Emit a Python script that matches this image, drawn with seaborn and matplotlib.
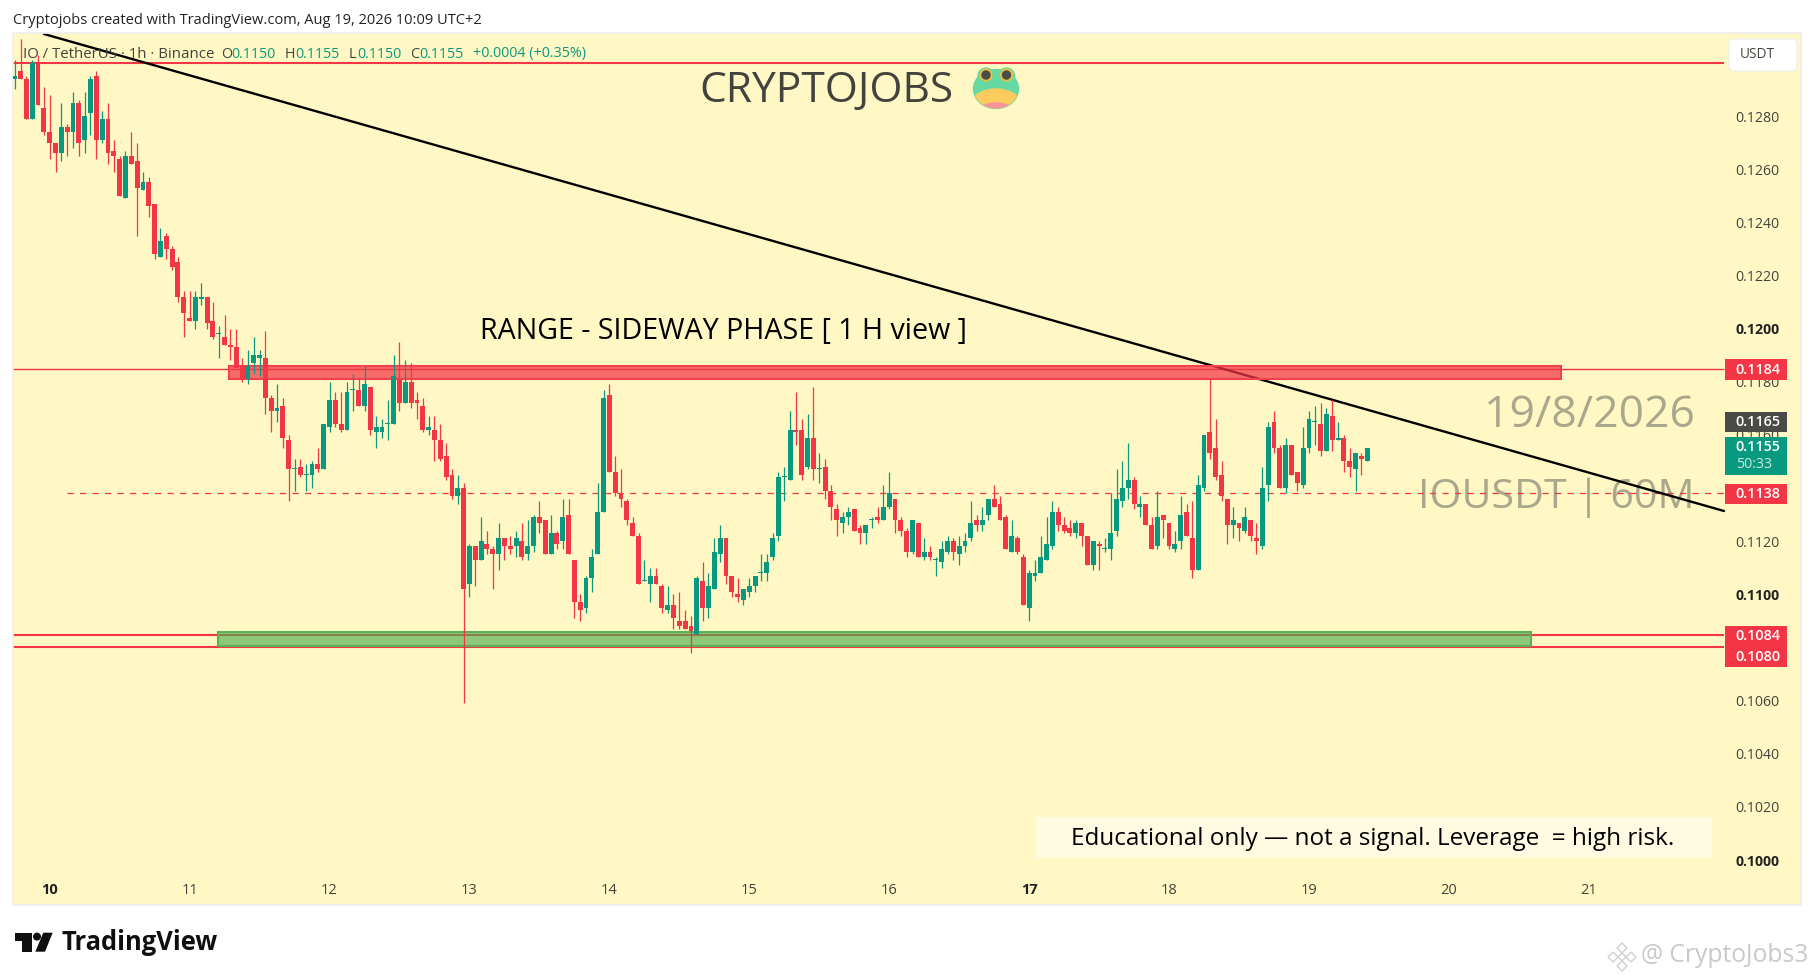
import numpy as np
import pandas as pd
import matplotlib
matplotlib.use("Agg")
import matplotlib.pyplot as plt
from matplotlib.patches import Rectangle, FancyBboxPatch, Ellipse, Circle, Polygon
import seaborn as sns

# hourly candles, in price ticks of 0.0001
opens = [1294,1297,1294,1279,1300,1283,1274,1270,1266,1276,
         1274,1285,1271,1281,1295,1271,1279,1267,1264,1249,
         1265,1263,1252,1255,1247,1227,1235,1230,1225,1212,
         1204,1203,1211,1212,1203,1198,1197,1194,1193,1186,
         1181,1187,1189,1189,1174,1169,1171,1158,1147,1148,
         1145,1145,1149,1147,1163,1173,1164,1162,1177,1177,
         1171,1178,1161,1161,1164,1164,1181,1172,1180,1173,
         1171,1162,1162,1158,1152,1145,1137,1140,1104,1118,
         1113,1119,1117,1115,1121,1118,1118,1120,1115,1118,
         1129,1128,1115,1123,1120,1130,1113,1097,1095,1106,
         1115,1131,1175,1146,1138,1135,1127,1122,1105,1104,
         1107,1103,1094,1096,1090,1090,1088,1085,1105,1095,
         1102,1115,1121,1107,1100,1098,1101,1103,1108,1108,
         1114,1122,1144,1143,1162,1162,1148,1159,1147,1148,
         1139,1132,1127,1129,1132,1125,1123,1128,1129,1128,
         1133,1136,1128,1124,1116,1127,1114,1116,1113,1112,
         1116,1120,1115,1118,1121,1128,1126,1130,1136,1134,
         1129,1116,1121,1114,1095,1107,1108,1113,1118,1131,
         1126,1125,1123,1127,1122,1111,1119,1117,1117,1124,
         1135,1140,1143,1133,1134,1126,1118,1130,1127,1117,
         1120,1131,1121,1109,1140,1161,1155,1145,1136,1126,
         1127,1124,1128,1121,1118,1141,1165,1155,1140,1156,
         1146,1141,1155,1165,1164,1154,1167,1158,1159,1150,
         1147,1152,1150]
closes = [1295,1294,1279,1300,1284,1274,1270,1266,1276,1274,
          1285,1270,1280,1294,1271,1279,1266,1265,1250,1265,
          1262,1253,1255,1246,1228,1233,1230,1223,1212,1206,
          1203,1212,1212,1202,1197,1198,1194,1193,1185,1181,
          1186,1190,1190,1174,1169,1170,1159,1147,1147,1145,
          1145,1149,1147,1164,1173,1164,1162,1176,1177,1171,
          1179,1162,1163,1163,1164,1182,1172,1180,1172,1172,
          1162,1163,1158,1151,1144,1137,1140,1102,1118,1113,
          1120,1117,1115,1121,1118,1117,1121,1114,1118,1129,
          1127,1115,1123,1119,1129,1115,1097,1094,1106,1114,
          1131,1174,1146,1138,1136,1128,1122,1104,1105,1107,
          1104,1095,1096,1091,1088,1087,1086,1106,1095,1103,
          1116,1121,1107,1101,1099,1102,1103,1107,1108,1112,
          1121,1144,1144,1162,1161,1145,1159,1147,1147,1139,
          1133,1128,1129,1131,1124,1123,1126,1128,1128,1133,
          1138,1128,1124,1116,1128,1114,1116,1114,1113,1117,
          1120,1116,1118,1120,1127,1126,1128,1136,1133,1128,
          1117,1122,1116,1096,1108,1108,1114,1119,1131,1126,
          1124,1123,1127,1122,1111,1120,1118,1117,1123,1136,
          1140,1143,1134,1134,1126,1117,1129,1128,1118,1119,
          1130,1122,1109,1141,1160,1153,1144,1137,1126,1128,
          1125,1129,1122,1120,1140,1163,1155,1140,1156,1145,
          1142,1155,1166,1165,1154,1168,1158,1159,1150,1148,
          1153,1151,1155]
highs = [1301,1309,1295,1301,1303,1291,1288,1270,1285,1277,
         1289,1286,1289,1295,1297,1282,1285,1271,1265,1267,
         1274,1270,1259,1257,1247,1238,1236,1231,1227,1214,
         1214,1214,1217,1212,1210,1201,1205,1200,1200,1189,
         1192,1197,1192,1199,1175,1179,1174,1160,1151,1151,
         1149,1150,1155,1164,1180,1176,1176,1180,1183,1181,
         1186,1178,1167,1166,1173,1190,1195,1188,1187,1176,
         1174,1167,1167,1164,1157,1147,1145,1142,1119,1118,
         1129,1124,1118,1127,1121,1122,1124,1127,1128,1130,
         1135,1128,1130,1124,1136,1136,1113,1100,1107,1117,
         1142,1177,1179,1152,1147,1136,1129,1123,1113,1110,
         1110,1104,1103,1100,1101,1094,1092,1107,1112,1108,
         1121,1126,1121,1107,1106,1102,1106,1107,1115,1115,
         1123,1146,1148,1169,1176,1166,1168,1178,1153,1151,
         1141,1134,1131,1133,1132,1126,1126,1129,1133,1141,
         1146,1136,1129,1125,1128,1127,1121,1118,1114,1120,
         1122,1121,1122,1123,1135,1130,1133,1136,1141,1137,
         1130,1128,1122,1115,1109,1113,1122,1129,1135,1133,
         1129,1128,1128,1127,1122,1120,1120,1121,1138,1147,
         1150,1157,1144,1137,1134,1129,1139,1130,1127,1124,
         1137,1134,1135,1145,1160,1181,1166,1150,1136,1133,
         1127,1133,1128,1127,1148,1165,1169,1156,1159,1156,
         1146,1163,1169,1171,1172,1170,1173,1165,1160,1155,
         1153,1153,1155]
lows = [1290,1294,1279,1279,1284,1273,1264,1259,1263,1265,
        1268,1265,1266,1273,1264,1270,1262,1259,1250,1249,
        1262,1235,1252,1242,1226,1227,1226,1222,1210,1197,
        1203,1200,1209,1200,1196,1189,1194,1188,1185,1180,
        1179,1183,1182,1168,1161,1165,1155,1135,1139,1144,
        1139,1140,1146,1147,1161,1163,1161,1162,1169,1171,
        1169,1160,1155,1159,1158,1164,1169,1172,1170,1166,
        1161,1160,1150,1150,1143,1136,1134,1059,1099,1103,
        1113,1115,1102,1109,1113,1115,1114,1113,1113,1116,
        1123,1115,1115,1117,1117,1115,1091,1090,1093,1101,
        1115,1131,1146,1137,1133,1126,1122,1104,1105,1097,
        1104,1093,1093,1087,1087,1087,1078,1085,1090,1091,
        1102,1112,1104,1099,1097,1096,1099,1101,1105,1105,
        1113,1120,1135,1143,1156,1143,1147,1143,1142,1136,
        1128,1122,1123,1126,1124,1119,1119,1125,1127,1128,
        1132,1123,1122,1114,1115,1114,1113,1113,1107,1110,
        1115,1113,1111,1116,1120,1124,1124,1128,1133,1128,
        1117,1116,1115,1096,1090,1105,1108,1113,1117,1124,
        1123,1122,1121,1118,1111,1109,1109,1116,1113,1122,
        1133,1136,1132,1129,1126,1117,1117,1121,1117,1116,
        1117,1122,1106,1109,1139,1151,1143,1135,1119,1121,
        1120,1123,1120,1115,1117,1135,1153,1140,1138,1145,
        1139,1140,1153,1156,1152,1154,1154,1158,1146,1144,
        1139,1145,1150]

day_labels = ["10", "11", "12", "13", "14", "15", "16", "17", "18", "19", "20", "21"]
bold_days = ["10", "17"]
first_midnight = 6
price_ticks = [0.1000 + 0.0020 * k for k in range(15)]
bold_prices = ["0.1000", "0.1100", "0.1200"]

RED = "#F23645"
GREEN = "#089981"
PANE = "#FFF8C4"
TEXT = "#43433E"
FAINT = "#A9A78C"

# pixel calibration of the pane
W, H = 1814, 980
pane_l, pane_r, pane_t, pane_b = 13, 1801, 33, 905
axis_x = 1724
bar0_x, bar_step = 14.7, 5.83
p0_y, px_per_price = 860, 26571


def idx(px):
    return (px - bar0_x) / bar_step


def price(py):
    return 0.1 + (p0_y - py) / px_per_price


sns.set_theme(style="white")
plt.rcParams["font.family"] = ["Open Sans", "DejaVu Sans"]

df = pd.DataFrame({"open": opens, "high": highs, "low": lows, "close": closes}) * 1e-4
df["bar"] = np.arange(len(df))
df["up"] = df["close"] >= df["open"]
df["bottom"] = df[["open", "close"]].min(axis=1)
df["body"] = (df["close"] - df["open"]).abs().clip(lower=0.00004)

fig = plt.figure(figsize=(W / 100, H / 100), dpi=100, facecolor="white")
ax = fig.add_axes([pane_l / W, 1 - pane_b / H, (pane_r - pane_l) / W, (pane_b - pane_t) / H])
ov = fig.add_axes([0, 0, 1, 1], zorder=5)
ov.set_xlim(0, W)
ov.set_ylim(H, 0)
ov.axis("off")
ov.patch.set_alpha(0)
ax.set_facecolor(PANE)

# levels and trend line sit under the bands
ax.hlines(0.1300, idx(pane_l), idx(axis_x), color=RED, lw=1.5, zorder=1.2)
ax.hlines(0.11847, idx(pane_l), idx(axis_x), color=RED, lw=1.0, zorder=1.2)
ax.hlines(0.1138, idx(67), idx(axis_x), color=RED, lw=0.9, ls=(0, (5, 5)), zorder=1.2)
ax.hlines([0.10847, 0.1080], idx(pane_l), idx(axis_x), color=RED, lw=1.5, zorder=1.2)
ax.plot([idx(44), idx(axis_x)], [price(34), price(511)], color="black", lw=1.7, zorder=1.3)

# supply and demand bands
ax.add_patch(Rectangle((idx(229), price(379)), idx(1561) - idx(229), price(366) - price(379),
                       facecolor=(0.949, 0.212, 0.271, 0.72), edgecolor="#F44050", lw=1.5, zorder=2))
ax.add_patch(Rectangle((idx(218), price(645.5)), idx(1531) - idx(218), price(631.5) - price(645.5),
                       facecolor=(0.30, 0.68, 0.31, 0.64), edgecolor="#5FAE58", lw=1.5, zorder=2))

# candles: wicks, then bodies through seaborn
ax.vlines(df["bar"][~df["up"]], df["low"][~df["up"]], df["high"][~df["up"]], color=RED, lw=0.9, zorder=3)
ax.vlines(df["bar"][df["up"]], df["low"][df["up"]], df["high"][df["up"]], color=GREEN, lw=0.9, zorder=3)
for is_up, colour in [(False, RED), (True, GREEN)]:
    part = df[df["up"] == is_up]
    sns.barplot(x=part["bar"].values, y=part["body"].values, bottom=part["bottom"].values,
                native_scale=True, color=colour, saturation=1, width=0.84, errorbar=None,
                linewidth=0, zorder=3.1, ax=ax)

ax.set_xlim(idx(pane_l), idx(pane_r))
ax.set_ylim(price(pane_b), price(pane_t))
ax.set_xlabel("")
ax.set_ylabel("")
for s in ax.spines.values():
    s.set_color("#EEEEEE")
    s.set_linewidth(1.2)

# axis labels live inside the pane
ax.set_xticks([first_midnight + 24 * k for k in range(len(day_labels))])
ax.set_xticklabels(day_labels)
ax.yaxis.tick_right()
ax.set_yticks(price_ticks)
ax.set_yticklabels([f"{p:.4f}" for p in price_ticks])
ax.tick_params(axis="x", length=0, pad=-16, labelsize=10.5, labelcolor=TEXT)
ax.tick_params(axis="y", length=0, pad=-47.5, labelsize=10.2, labelcolor=TEXT)
for lab in ax.get_xticklabels():
    if lab.get_text() in bold_days:
        lab.set_fontweight("bold")
        lab.set_color("#222222")
for lab in ax.get_yticklabels():
    if lab.get_text() in bold_prices:
        lab.set_fontweight("bold")
        lab.set_color("#222222")

# watermarks stay under the trend line
ax.text(1695, 416, "19/8/2026", transform=ov.transData, ha="right", va="center",
        fontsize=32, color=FAINT, zorder=1)
ax.text(1695, 498, "IOUSDT | 60M", transform=ov.transData, ha="right", va="center",
        fontsize=29.6, color=FAINT, zorder=1)

# header and legend
ov.text(13, 21, "Cryptojobs created with TradingView.com, Aug 19, 2026 10:09 UTC+2",
        fontsize=10.5, color="#222222", va="center")
ov.text(23, 54, "IO / TetherUS · 1h · Binance", fontsize=10.8, color=TEXT, va="center")
legend_bits = [(221, "O", TEXT), (231, "0.1150", GREEN),
               (285, "H", TEXT), (295, "0.1155", GREEN), (349, "L", TEXT), (357, "0.1150", GREEN),
               (410, "C", TEXT), (419, "0.1155", GREEN), (473, "+0.0004 (+0.35%)", GREEN)]
for lx, s, c in legend_bits:
    ov.text(lx, 54, s, fontsize=10.3, color=c, va="center")

ov.text(699, 91, "CRYPTOJOBS", fontsize=30.6, color=TEXT, va="center")
ov.text(480, 331, "RANGE - SIDEWAY PHASE [ 1 H view ]", fontsize=20.6, color="black", va="center")

# frog
head = Ellipse((996, 89), 45, 39, color="#66D8A2", zorder=3)
ov.add_patch(head)
ov.add_patch(Circle((986, 76), 8, color="#66D8A2", zorder=3))
ov.add_patch(Circle((1006.5, 76), 8, color="#66D8A2", zorder=3))
for ex in (986, 1006.5):
    ov.add_patch(Circle((ex, 75), 5.8, color="#EFC23C", zorder=4))
    ov.add_patch(Circle((ex, 75), 4, color="#4B4B48", zorder=5))
belly = Ellipse((996, 108), 54, 38, color="#FCCB5E", zorder=4)
ov.add_patch(belly)
belly.set_clip_path(head)
pink = Ellipse((996, 112), 36, 18, color="#F9959A", zorder=5)
ov.add_patch(pink)
pink.set_clip_path(head)

# right side price labels
boxes = [(359, 380, RED, "0.1184"), (412, 432, "#4A4A47", "0.1165"), (483.5, 504, RED, "0.1138"),
         (625.5, 647, RED, "0.1084"), (647, 667, RED, "0.1080")]
for top, bot, c, s in boxes:
    ov.add_patch(Rectangle((1725, top), 62, bot - top, color=c, lw=0, zorder=3))
    ov.text(1758, (top + bot) / 2, s, color="white", fontsize=10.4, fontweight="semibold",
            ha="center", va="center", zorder=4)
ov.add_patch(Rectangle((1725, 437), 62, 38, color=GREEN, lw=0, zorder=3))
ov.text(1758, 447, "0.1155", color="white", fontsize=10.4, fontweight="semibold",
        ha="center", va="center", zorder=4)
ov.text(1736, 464.5, "50:33", color="#CDE9DC", fontsize=10.2, ha="left", va="center", zorder=4)

# currency button
ov.add_patch(FancyBboxPatch((1732, 42), 62, 26, boxstyle="round,pad=3,rounding_size=5",
                            facecolor="white", edgecolor="#EEEEEE", lw=0.8, zorder=3))
ov.text(1740, 55, "USDT", color=TEXT, fontsize=9.8, va="center", zorder=4)

# disclaimer
ov.add_patch(Rectangle((1036, 817), 676, 41, color="#FFFBE3", lw=0, zorder=1))
ov.text(1373, 839, "Educational only — not a signal. Leverage  = high risk.", color="black",
        fontsize=17.5, ha="center", va="center", zorder=2)

# TradingView logo
logo = "#0F0F0F"
ov.add_patch(Polygon([(15.3, 932.7), (31.7, 932.7), (31.7, 951.7), (22.3, 951.7), (22.3, 941), (15.3, 941)],
                     color=logo, lw=0))
ov.add_patch(Circle((37, 936.6), 4, color=logo, lw=0))
ov.add_patch(Polygon([(43.3, 932.7), (52.7, 932.7), (45, 951.7), (35.3, 951.7)], color=logo, lw=0))
ov.text(61, 942, "TradingView", fontsize=18.4, fontweight="bold", color=logo, va="center")

# source watermark
for dx, dy, r in [(0, -9, 5), (-9, 0, 5), (9, 0, 5), (0, 9, 5), (0, 0, 4)]:
    cx, cy = 1622 + dx, 957 + dy
    ov.add_patch(Polygon([(cx, cy - r), (cx + r, cy), (cx, cy + r), (cx - r, cy)],
                         facecolor="none", edgecolor="#CFCFCF", lw=1))
ov.text(1641, 955, "@ CryptoJobs3", fontsize=17.7, color="#C9C9C9", va="center")

fig.savefig("out.png", dpi=100, facecolor="white")
